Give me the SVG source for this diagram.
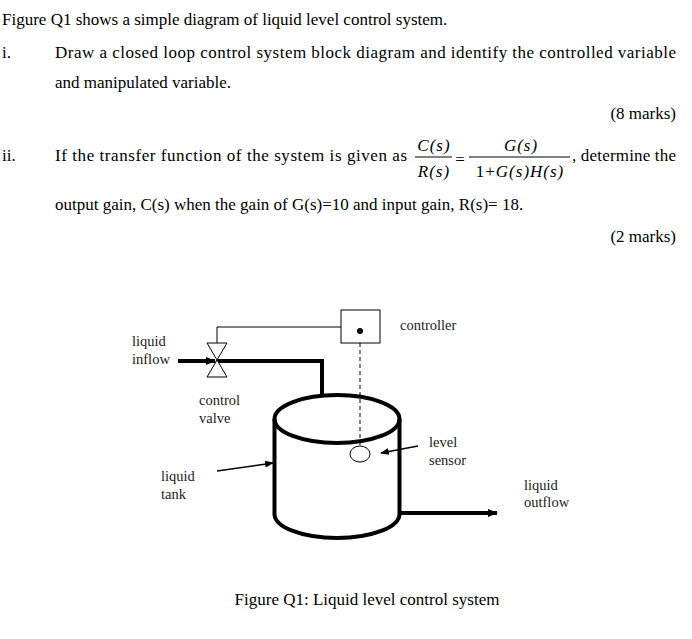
<svg xmlns="http://www.w3.org/2000/svg" width="692" height="639" viewBox="0 0 692 639">
<style>
text{font-family:"Liberation Serif",serif;fill:#000}
.q{font-size:17px}
.l{font-size:14.5px;fill:#1a1a1a}
.m{font-size:17px;font-style:italic;letter-spacing:1px}
.thick{stroke:#000;stroke-width:4;fill:none}
.thin{stroke:#000;stroke-width:1;fill:none}
</style>
<defs>
<marker id="ah" markerWidth="10" markerHeight="8" refX="9" refY="4" orient="auto" markerUnits="userSpaceOnUse"><path d="M0,0 L10,4 L0,8 z" fill="#000"/></marker>
<marker id="ahs" markerWidth="9" markerHeight="7" refX="8" refY="3.5" orient="auto" markerUnits="userSpaceOnUse"><path d="M0,0 L9,3.5 L0,7 z" fill="#000"/></marker>
</defs>
<rect width="692" height="639" fill="#fff"/>
<g id="question">
<text class="q" x="2" y="25">Figure Q1 shows a simple diagram of liquid level control system.</text>
<text class="q" x="2" y="58">i.</text>
<text class="q" x="55" y="58" textLength="621" lengthAdjust="spacing">Draw a closed loop control system block diagram and identify the controlled variable</text>
<text class="q" x="55" y="88">and manipulated variable.</text>
<text class="q" x="676" y="119" text-anchor="end">(8 marks)</text>
<text class="q" x="2" y="161">ii.</text>
<text class="q" x="55" y="161" textLength="352" lengthAdjust="spacing">If the transfer function of the system is given as</text>
<text class="m" x="434" y="151" text-anchor="middle">C(s)</text>
<line x1="415" y1="157" x2="452" y2="157" stroke="#000" stroke-width="1"/>
<text class="m" x="434" y="177" text-anchor="middle">R(s)</text>
<text class="q" x="460" y="165" text-anchor="middle">=</text>
<text class="m" x="521" y="151" text-anchor="middle">G(s)</text>
<line x1="469" y1="157" x2="570" y2="157" stroke="#000" stroke-width="1"/>
<text class="m" x="520" y="177" text-anchor="middle"><tspan font-style="normal">1+</tspan>G(s)H(s)</text>
<text class="q" x="572" y="161" textLength="104" lengthAdjust="spacing">, determine the</text>
<text class="q" x="55" y="210">output gain, C(s) when the gain of G(s)=10 and input gain, R(s)= 18.</text>
<text class="q" x="676" y="242" text-anchor="end">(2 marks)</text>
</g>
<g id="connectors">
<polyline class="thin" points="341,327 217,327 217,343"/>
<line class="thick" x1="178" y1="361" x2="215" y2="361" marker-end="url(#ah)"/>
<polyline class="thick" points="217,361 322,361 322,396"/>
<line x1="360" y1="343" x2="360" y2="445" stroke="#000" stroke-width="1" stroke-dasharray="4,3"/>
<line class="thick" x1="399" y1="513" x2="497" y2="513" marker-end="url(#ah)"/>
<line x1="418" y1="446" x2="381" y2="453" stroke="#000" stroke-width="1.5" marker-end="url(#ahs)"/>
<line x1="217" y1="471" x2="273" y2="463" stroke="#000" stroke-width="1.5" marker-end="url(#ahs)"/>
</g>
<g id="valve">
<path d="M207,343 L227,343 L207,377 L227,377 Z" fill="#fff" stroke="#000" stroke-width="1"/>
</g>
<g id="controller">
<rect x="341" y="310" width="39" height="33" fill="#fff" stroke="#000" stroke-width="1"/>
<circle cx="360" cy="331" r="3" fill="#000"/>
</g>
<g id="tank">
<ellipse cx="337" cy="419" rx="62.5" ry="24" class="thick"/>
<path class="thick" d="M274.5,419 L274.5,514 A62.5,24 0 0 0 399.5,514 L399.5,419"/>
</g>
<g id="sensor">
<ellipse cx="360" cy="454" rx="10" ry="8" class="thin"/>
</g>
<g id="labels">
<text class="l" x="132" y="346">liquid</text>
<text class="l" x="132" y="364">inflow</text>
<text class="l" x="199" y="405">control</text>
<text class="l" x="199" y="423">valve</text>
<text class="l" x="161" y="481">liquid</text>
<text class="l" x="161" y="499">tank</text>
<text class="l" x="400" y="330">controller</text>
<text class="l" x="429" y="447">level</text>
<text class="l" x="429" y="465">sensor</text>
<text class="l" x="524" y="490">liquid</text>
<text class="l" x="524" y="507">outflow</text>
<text class="q" x="367" y="605" text-anchor="middle">Figure Q1: Liquid level control system</text>
</g>
</svg>
